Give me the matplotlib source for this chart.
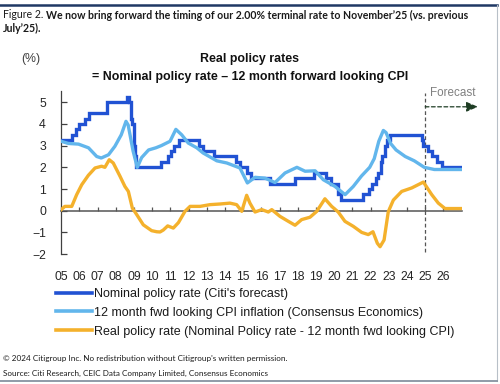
import matplotlib
matplotlib.use("Agg")
import matplotlib.pyplot as plt
from matplotlib import font_manager
from matplotlib.lines import Line2D

# policy rate (step changes), year fraction -> %
nominal_dates = [2005.0, 2005.6, 2005.8, 2006.0, 2006.3, 2006.55, 2007.5, 2008.6, 2008.75,
                 2008.82, 2008.9, 2008.98, 2009.05, 2009.12, 2010.5, 2010.85, 2011.05, 2011.2,
                 2011.45, 2012.55, 2012.8, 2013.4, 2014.6, 2014.8, 2015.2, 2015.45, 2016.45,
                 2017.85, 2018.9, 2019.55, 2019.8, 2020.2, 2020.4, 2021.6, 2021.9, 2022.05,
                 2022.3, 2022.4, 2022.55, 2022.65, 2022.8, 2022.9, 2023.05, 2024.8, 2024.9,
                 2025.15, 2025.4, 2025.65, 2025.9, 2027.0]
nominal_vals = [3.25, 3.5, 3.75, 4.0, 4.25, 4.5, 5.0, 5.25, 5.0,
                4.25, 4.0, 3.0, 2.5, 2.0, 2.25, 2.5, 2.75, 3.0,
                3.25, 3.0, 2.75, 2.5, 2.25, 2.0, 1.75, 1.5, 1.25,
                1.5, 1.75, 1.5, 1.25, 0.75, 0.5, 0.75, 1.0, 1.25,
                1.5, 1.75, 2.25, 2.5, 3.0, 3.25, 3.5, 3.25, 3.0,
                2.75, 2.5, 2.25, 2.0, 2.0]

cpi_dates = [2005.0, 2005.4, 2005.95, 2006.5, 2006.95, 2007.2, 2007.6, 2007.95, 2008.3, 2008.56,
             2008.68, 2008.95, 2009.18, 2009.42, 2009.8, 2010.2, 2010.5, 2010.98, 2011.3, 2011.62,
             2011.98, 2012.45, 2012.8, 2013.55, 2014.1, 2014.82, 2015.23, 2015.65, 2016.2, 2016.75,
             2017.3, 2017.95, 2018.4, 2018.95, 2019.4, 2020.04, 2020.6, 2021.05, 2021.5, 2021.95,
             2022.2, 2022.45, 2022.7, 2022.85, 2023.1, 2023.4, 2023.9, 2024.4, 2024.95, 2025.5,
             2027.0]
cpi_vals = [3.2, 3.1, 3.07, 2.9, 2.5, 2.43, 2.58, 2.97, 3.5, 4.12,
            3.95, 2.75, 2.0, 2.45, 2.8, 2.9, 3.0, 3.2, 3.75, 3.5,
            3.12, 2.9, 2.66, 2.3, 2.2, 1.97, 1.28, 1.54, 1.5, 1.3,
            1.74, 2.0, 1.82, 1.84, 1.43, 1.12, 0.74, 1.12, 1.6, 2.0,
            2.4, 3.2, 3.7, 3.6, 3.1, 2.8, 2.5, 2.3, 2.0, 1.9,
            1.9]

real_dates = [2005.0, 2005.2, 2005.58, 2005.85, 2006.13, 2006.49, 2006.86, 2007.22, 2007.4, 2007.64,
              2007.86, 2008.23, 2008.5, 2008.69, 2008.91, 2009.15, 2009.51, 2009.97, 2010.25, 2010.43,
              2010.61, 2010.85, 2011.16, 2011.44, 2011.8, 2012.08, 2012.63, 2013.18, 2013.73, 2014.27,
              2014.64, 2014.92, 2015.19, 2015.37, 2015.65, 2016.02, 2016.38, 2016.57, 2017.02, 2017.48,
              2017.85, 2018.21, 2018.67, 2019.04, 2019.49, 2019.86, 2020.22, 2020.59, 2021.05, 2021.51,
              2021.87, 2022.13, 2022.37, 2022.52, 2022.74, 2022.97, 2023.25, 2023.71, 2024.26, 2024.9,
              2025.36, 2025.72, 2026.09, 2027.0]
real_vals = [0.05, 0.2, 0.2, 0.74, 1.2, 1.63, 1.97, 2.05, 2.0, 2.35,
             2.2, 1.59, 1.12, 0.89, 0.12, -0.18, -0.65, -0.92, -0.97, -0.98,
             -0.89, -0.7, -0.8, -0.55, -0.03, 0.2, 0.2, 0.28, 0.31, 0.35,
             0.28, -0.03, 0.71, 0.35, -0.06, 0.05, -0.06, 0.05, -0.26, -0.49,
             -0.67, -0.41, -0.3, -0.03, 0.55, 0.2, -0.06, -0.49, -0.72, -1.0,
             -1.1, -0.97, -1.5, -1.66, -1.35, -0.05, 0.49, 0.89, 1.05, 1.32,
             0.74, 0.35, 0.1, 0.1]

years = list(range(2005, 2027))
year_labels = [f"{y % 100:02d}" for y in years]
y_ticks = [-2, -1, 0, 1, 2, 3, 4, 5]
forecast_start = 2025.0

labels = [
    "Nominal policy rate (Citi's forecast)",
    "12 month fwd looking CPI inflation (Consensus Economics)",
    "Real policy rate (Nominal Policy rate - 12 month fwd looking CPI)",
]
colors = ["#2152D3", "#62B6EC", "#F4B12C"]

names = {f.name for f in font_manager.fontManager.ttflist}
narrow = "Liberation Sans Narrow" if "Liberation Sans Narrow" in names else "Liberation Sans"
k = 1.0 if narrow == "Liberation Sans Narrow" else 0.84
cap_font = "Lato" if "Lato" in names else "DejaVu Sans"

W, H = 500, 384
fig = plt.figure(figsize=(W / 100, H / 100), dpi=100)
fig.patch.set_facecolor("white")


def px(x, y):
    return x / W, 1 - y / H


# frame lines
fig.add_artist(Line2D([0, 0.994], [px(0, 4.5)[1]] * 2, transform=fig.transFigure, color="#1F3864", lw=1.8))
fig.add_artist(Line2D([0.993, 0.993], [px(0, 381)[1], px(0, 4.5)[1]], transform=fig.transFigure, color="#B8C0C8", lw=0.8))
fig.add_artist(Line2D([0, 0.994], [px(0, 381)[1]] * 2, transform=fig.transFigure, color="#7D8A99", lw=1.2))

# caption
t1 = fig.text(*px(3, 15), "Figure 2. ", fontsize=7.6, family=cap_font, color="#1a1a1a", va="center")
fig.canvas.draw()
bb = t1.get_window_extent()
fig.text(bb.x1 / W, px(0, 15)[1],
         "We now bring forward the timing of our 2.00% terminal rate to November\u201925 (vs. previous",
         fontsize=7.6, family=cap_font, weight="bold", color="#1a1a1a", va="center")
fig.text(*px(3, 28), "July\u201925).", fontsize=7.6, family=cap_font, weight="bold", color="#1a1a1a", va="center")

# chart title
fig.text(*px(250, 59), "Real policy rates", fontsize=10.6 * k, family=narrow, weight="bold",
         ha="center", va="center", color="#111111")
fig.text(*px(250, 77), "= Nominal policy rate \u2013 12 month forward looking CPI", fontsize=10.6 * k,
         family=narrow, weight="bold", ha="center", va="center", color="#111111")
fig.text(*px(31, 59), "(%)", fontsize=10.5 * k, family=narrow, ha="center", va="center", color="#404040")

# axes
left, right, top, bottom = 61.2, 461.6, 91.4, 254.1
ax = fig.add_axes([left / W, 1 - bottom / H, (right - left) / W, (bottom - top) / H])
ax.set_facecolor("none")
ax.set_xlim(2005, 2027)
ax.set_ylim(-2, 5.5)

ax.plot(nominal_dates, nominal_vals, drawstyle="steps-post", color=colors[0], lw=2.4,
        solid_joinstyle="miter", label=labels[0], zorder=3)
ax.plot(cpi_dates, cpi_vals, color=colors[1], lw=2.4, label=labels[1], zorder=4)
ax.plot(real_dates, real_vals, color=colors[2], lw=2.4, label=labels[2], zorder=4)

for s in ["top", "right"]:
    ax.spines[s].set_visible(False)
ax.spines["left"].set_color("#404040")
ax.spines["left"].set_linewidth(0.9)
ax.spines["bottom"].set_position(("data", 0))
ax.spines["bottom"].set_color("#555555")
ax.spines["bottom"].set_linewidth(1.1)
ax.spines["bottom"].set_zorder(2)

ax.set_xticks(years)
ax.tick_params(axis="x", direction="in", length=3, width=0.9, color="#555555", labelbottom=False)
ax.set_yticks(y_ticks)
ax.tick_params(axis="y", direction="in", length=4, width=0.9, color="#404040", pad=11,
               labelsize=10.5 * k, labelcolor="#262626")
for lab in ax.get_yticklabels():
    lab.set_family(narrow)

sec = ax.secondary_xaxis("bottom")
sec.set_xticks(years)
sec.set_xticklabels(year_labels)
sec.spines["bottom"].set_visible(False)
sec.tick_params(length=0, pad=12, labelsize=10.5 * k, labelcolor="#262626")
for lab in sec.get_xticklabels():
    lab.set_family(narrow)

# forecast marker
ax.axvline(forecast_start, ymin=0.01, ymax=0.99, color="#555555", lw=0.9, ls=(0, (3, 2)), zorder=2)
ax.annotate("", xy=(2027.9, 4.79), xytext=(forecast_start, 4.79), annotation_clip=False,
            arrowprops=dict(arrowstyle="-|>,head_length=0.7,head_width=0.3", color="#444444",
                            lw=0.9, ls=(0, (3, 2)), fc="#1E3D24", ec="#1E3D24",
                            shrinkA=0, shrinkB=0, mutation_scale=10))
ax.text(2025.28, 5.42, "Forecast", fontsize=10 * k, family=narrow, color="#808080",
        va="center", ha="left", clip_on=False)

leg = fig.legend(loc="upper left", bbox_to_anchor=px(56, 288), frameon=False,
                 prop={"family": narrow, "size": 10.7 * k}, handlelength=2.9, handletextpad=0.15,
                 labelspacing=0.55, borderaxespad=0, borderpad=0)
for h in leg.get_lines():
    h.set_linewidth(2.6)
for t in leg.get_texts():
    t.set_color("#1a1a1a")

fig.text(*px(3, 358), "\u00a9 2024 Citigroup Inc. No redistribution without Citigroup's written permission.",
         fontsize=5.9, family=cap_font, color="#1a1a1a", va="center")
fig.text(*px(3, 373), "Source: Citi Research, CEIC Data Company Limited, Consensus Economics",
         fontsize=5.9, family=cap_font, color="#1a1a1a", va="center")

fig.savefig("out.png", dpi=100)
